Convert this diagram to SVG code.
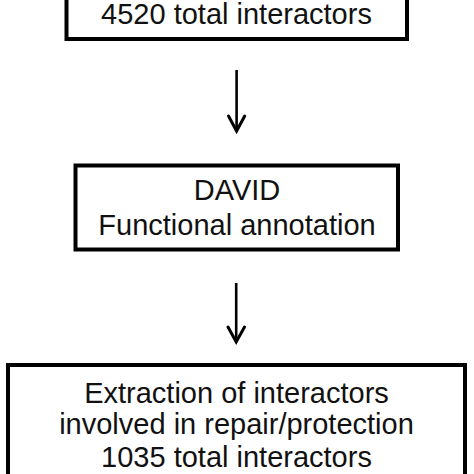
<svg xmlns="http://www.w3.org/2000/svg" width="474" height="474" viewBox="0 0 474 474">
<style>
.box{fill:#fff;stroke:#000;stroke-width:4}
.t{font-family:"Liberation Sans",Arial,sans-serif;font-size:29px;fill:#111;text-anchor:middle}
.ln{stroke:#000;stroke-width:2.6;fill:none}
.hd{stroke:#000;stroke-width:3;fill:none;stroke-linecap:round;stroke-linejoin:miter}
</style>
<rect width="474" height="474" fill="#fff"/>
<g id="node-total">
<rect class="box" x="66.5" y="-10" width="340.5" height="49"/>
<text class="t" x="236.5" y="23.5">4520 total interactors</text>
</g>
<g id="node-david">
<rect class="box" x="75.5" y="165.5" width="322.5" height="84"/>
<text class="t" x="237" y="200">DAVID</text>
<text class="t" x="237" y="235">Functional annotation</text>
</g>
<g id="node-extraction">
<rect class="box" x="8" y="365" width="457" height="120"/>
<text class="t" x="236.5" y="402.5">Extraction of interactors</text>
<text class="t" x="236.5" y="434">involved in repair/protection</text>
<text class="t" x="236.5" y="466.5">1035 total interactors</text>
</g>
<g id="connectors">
<line class="ln" x1="236.6" y1="70" x2="236.6" y2="130"/>
<polyline class="hd" points="228.5,116 236.6,131 244.7,116"/>
<line class="ln" x1="236.2" y1="283" x2="236.2" y2="341"/>
<polyline class="hd" points="228,327 236.2,342 244.5,327"/>
</g>
</svg>
